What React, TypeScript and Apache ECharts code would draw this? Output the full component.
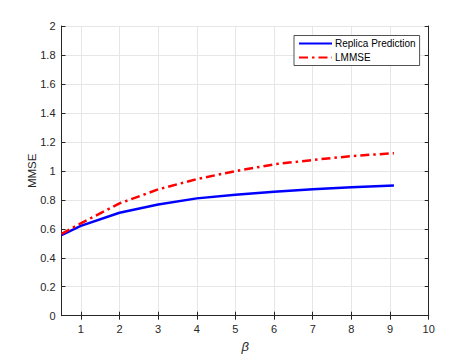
import React, { useEffect, useRef } from "react";
import * as echarts from "echarts";

const betaValues = [0.5, 1, 2, 3, 4, 5, 6, 7, 8, 9.1];
const replicaValues = [0.557, 0.62, 0.711, 0.768, 0.81, 0.835, 0.856, 0.873, 0.886, 0.899];
const lmmseValues = [0.565, 0.638, 0.775, 0.872, 0.943, 0.998, 1.045, 1.075, 1.102, 1.122];
const xTicks = [1, 2, 3, 4, 5, 6, 7, 8, 9, 10];
const seriesNames = ["Replica Prediction", "LMMSE"];

const FONT = "'Liberation Sans', Arial, Helvetica, sans-serif";
const AXIS_COLOR = "#262626";
const GRID_COLOR = "#e6e6e6";

export default function App() {
  const ref = useRef<HTMLDivElement>(null);
  useEffect(() => {
    document.body.style.margin = "0";
    const chart = echarts.init(ref.current!, null, { renderer: "svg" });
    const baseX = {
      type: "value" as const,
      min: 0.5,
      max: 10,
      axisLine: { show: true, lineStyle: { color: AXIS_COLOR, width: 1 } },
      axisTick: { show: true, inside: true, length: 4, customValues: xTicks, lineStyle: { color: AXIS_COLOR } },
    };
    const baseY = {
      type: "value" as const,
      min: 0,
      max: 2,
      interval: 0.2,
      axisLine: { show: true, lineStyle: { color: AXIS_COLOR, width: 1 } },
      axisTick: { show: true, inside: true, length: 4, lineStyle: { color: AXIS_COLOR } },
    };
    chart.setOption({
      animation: false,
      backgroundColor: "#ffffff",
      grid: { left: 61.5, right: 45.3, top: 26, bottom: 39.3, containLabel: false, outerBoundsMode: "none" },
      legend: {
        orient: "vertical",
        left: 294,
        top: 35.5,
        data: seriesNames,
        itemWidth: 33,
        itemHeight: 10,
        itemGap: 4,
        padding: [3, 4, 3, 4],
        backgroundColor: "#ffffff",
        borderColor: AXIS_COLOR,
        borderWidth: 0.8,
        itemStyle: { color: "rgba(0,0,0,0)", borderColor: "rgba(0,0,0,0)", borderWidth: 0 },
        textStyle: { fontFamily: FONT, fontSize: 10, color: "#000000", padding: [0, 0, 0, -2] },
      },
      xAxis: [
        {
          ...baseX,
          position: "bottom",
          name: "β",
          nameLocation: "middle",
          nameGap: 24,
          nameMoveOverlap: false,
          nameTextStyle: { fontFamily: FONT, fontSize: 13, fontStyle: "italic", color: AXIS_COLOR },
          axisLabel: { show: true, customValues: xTicks, margin: 8, fontFamily: FONT, fontSize: 11, color: AXIS_COLOR },
          splitLine: { show: true, lineStyle: { color: GRID_COLOR, width: 1 } },
        },
        {
          ...baseX,
          position: "top",
          axisLabel: { show: false },
          splitLine: { show: false },
        },
      ],
      yAxis: [
        {
          ...baseY,
          position: "left",
          name: "MMSE",
          nameLocation: "middle",
          nameGap: 24,
          nameMoveOverlap: false,
          nameTextStyle: { fontFamily: FONT, fontSize: 11.5, color: AXIS_COLOR },
          axisLabel: { show: true, margin: 6, fontFamily: FONT, fontSize: 11, color: AXIS_COLOR },
          splitLine: { show: true, lineStyle: { color: GRID_COLOR, width: 1 } },
        },
        {
          ...baseY,
          position: "right",
          axisLabel: { show: false },
          splitLine: { show: false },
        },
      ],
      series: [
        {
          name: seriesNames[0],
          type: "line",
          xAxisIndex: 0,
          yAxisIndex: 0,
          data: betaValues.map((b, i) => [b, replicaValues[i]]),
          showSymbol: false,
          symbol: "none",
          color: "#0000ff",
          lineStyle: { color: "#0000ff", width: 2.5 },
          z: 3,
        },
        {
          name: seriesNames[1],
          type: "line",
          xAxisIndex: 0,
          yAxisIndex: 0,
          data: betaValues.map((b, i) => [b, lmmseValues[i]]),
          showSymbol: false,
          symbol: "none",
          color: "#ff0000",
          lineStyle: { color: "#ff0000", width: 2.5, type: [9, 4, 2.5, 4] },
          z: 4,
        },
      ],
    });
    return () => chart.dispose();
  }, []);
  return <div ref={ref} style={{ width: 474, height: 355 }} />;
}
